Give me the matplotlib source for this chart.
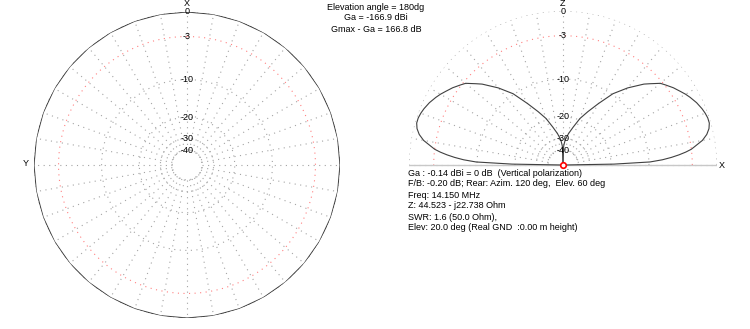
import numpy as np
import matplotlib
matplotlib.use("Agg")
import matplotlib.pyplot as plt

plt.rcParams['font.family'] = ['Liberation Sans', 'DejaVu Sans']

# azimuth pattern (dB relative to max), vertical antenna -> omni
azim_deg = [0, 10, 20, 30, 40, 50, 60, 70, 80, 90, 100, 110, 120,
            130, 140, 150, 160, 170, 180, 190, 200, 210, 220, 230, 240,
            250, 260, 270, 280, 290, 300, 310, 320, 330, 340, 350, 360]
azim_db = [0.0, 0.0, 0.0, 0.0, 0.0, 0.0, 0.0, 0.0, 0.0, 0.0, 0.0, 0.0, 0.0,
           0.0, 0.0, 0.0, 0.0, 0.0, 0.0, 0.0, 0.0, 0.0, 0.0, 0.0, 0.0,
           0.0, 0.0, 0.0, 0.0, 0.0, 0.0, 0.0, 0.0, 0.0, 0.0, 0.0, 0.0]

# elevation pattern (one lobe, 0..90 deg)
elev_deg = [0, 1, 2, 3, 4, 5, 6, 7, 8, 10, 12, 14, 16, 18, 20, 22, 25,
            28, 30, 32, 35, 38, 40, 43, 45, 50, 55, 60, 65, 70, 75, 80,
            85, 88, 90]
elev_db = [-100, -19, -9.8, -7.5, -6.0, -4.8, -3.8, -3.0, -2.5, -1.45, -0.8,
           -0.4, -0.2, -0.2, -0.3, -0.45, -0.75, -1.15, -1.45, -1.8, -2.3,
           -2.9, -3.3, -4.4, -5.1, -7.3, -9.8, -13.3, -16.5, -19.5, -23.5,
           -27, -31, -36, -100]

ring_db = [0, -10, -20, -30, -40]
red_ring_db = -3
label_db = [0, -3, -10, -20, -30, -40]
label_txt = ['0', '-3', '-10', '-20', '-30', '-40']

info_top = ['Elevation angle = 180dg', 'Ga = -166.9 dBi', 'Gmax - Ga = 166.8 dB']
info_bottom = ['Ga : -0.14 dBi = 0 dB  (Vertical polarization)',
               'F/B: -0.20 dB; Rear: Azim. 120 deg,  Elev. 60 deg',
               'Freq: 14.150 MHz',
               'Z: 44.523 - j22.738 Ohm',
               'SWR: 1.6 (50.0 Ohm),',
               'Elev: 20.0 deg (Real GND  :0.00 m height)']

W, H = 750, 329
GRID = '#a4a4a4'
RED = '#ff8080'
PAT = '#404040'
DOT = (0, (1, 4))
FS = 6.5


def arrl(db):
    # ARRL log scale used by MMANA
    return 0.89 ** (-np.asarray(db, dtype=float) / 2)


def polar_box(cx, cy, r):
    return [(cx - r) / W, (H - cy - r) / H, 2 * r / W, 2 * r / H]


def draw_grid(ax, t0, t1):
    th = np.radians(np.linspace(t0, t1, 361))
    for db in ring_db:
        ax.plot(th, np.full(th.shape, arrl(db)), color=GRID, lw=0.8, ls=DOT)
    ax.plot(th, np.full(th.shape, arrl(red_ring_db)), color=RED, lw=0.8, ls=DOT)
    for a in range(t0, t1 + 1, 10):
        if t1 - t0 == 360 and a == t1:
            continue
        ax.plot([np.radians(a)] * 2, [arrl(-40), 1.0], color=GRID, lw=0.8, ls=DOT)
    for db, txt in zip(label_db, label_txt):
        ax.text(np.radians(90) if t1 - t0 < 360 else 0, arrl(db), txt,
                ha='center', va='center', fontsize=FS, color='black')


fig = plt.figure(figsize=(W / 100, H / 100), dpi=100)

# left: azimuth plot
ax1 = fig.add_axes(polar_box(187, 165, 153), projection='polar')
ax1.set_theta_zero_location('N')
ax1.axis('off')
ax1.set_ylim(0, 1)
draw_grid(ax1, 0, 360)
ax1.plot(np.radians(azim_deg), arrl(azim_db), color=PAT, lw=0.8)
fig.text(187 / W, 1 - 4 / H, 'X', ha='center', va='center', fontsize=FS)
fig.text(26 / W, 1 - 164 / H, 'Y', ha='center', va='center', fontsize=FS)

# right: elevation plot
ax2 = fig.add_axes(polar_box(563, 165, 154), projection='polar')
ax2.axis('off')
ax2.set_ylim(0, 1)
draw_grid(ax2, 0, 180)
ax2.plot([0, 0], [0, 1], color='#c8c8c8', lw=1.0)
ax2.plot([np.pi, np.pi], [0, 1], color='#c8c8c8', lw=1.0)
el = np.radians(elev_deg)
r = arrl(elev_db)
ax2.plot(el, r, color=PAT, lw=0.8)
ax2.plot(np.pi - el, r, color=PAT, lw=0.8)
ax2.plot([0], [0], 'o', mfc='white', mec='red', mew=1.2, ms=4, clip_on=False)
fig.text(563 / W, 1 - 4 / H, 'Z', ha='center', va='center', fontsize=FS)
fig.text(722 / W, 1 - 165 / H, 'X', ha='center', va='center', fontsize=FS)

for i, s in enumerate(info_top):
    fig.text(376 / W, 1 - (7 + 11 * i) / H, s, ha='center', va='center', fontsize=FS)
for i, s in enumerate(info_bottom):
    fig.text(408 / W, 1 - (173 + 11 * i) / H, s, ha='left', va='center', fontsize=FS)

fig.savefig('out.png', dpi=100, facecolor='white')
